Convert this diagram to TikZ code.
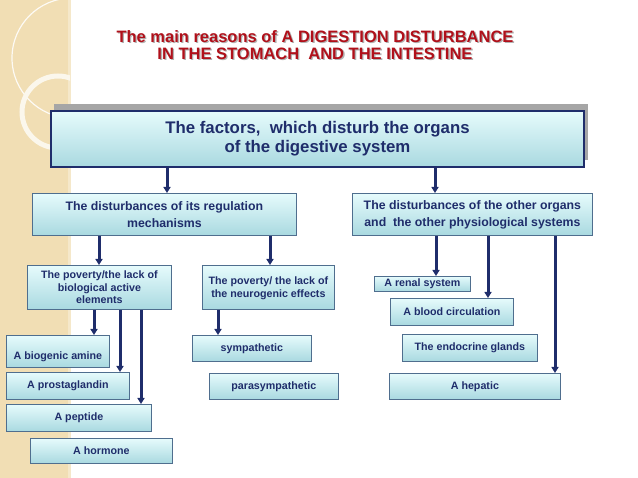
\documentclass[tikz,border=0pt]{standalone}
\usepackage{fontspec}
\setmainfont{Liberation Sans}
\usetikzlibrary{arrows.meta}
\definecolor{navy}{HTML}{1F2D6B}
\definecolor{boxtop}{HTML}{E6FBFC}
\definecolor{boxbot}{HTML}{A9D9E0}
\definecolor{bord}{HTML}{4F6E8E}
\definecolor{beige}{HTML}{F1DEB4}
\definecolor{titlered}{HTML}{B0101A}
\begin{document}
\begin{tikzpicture}[x=1pt,y=-1pt,
  bx/.style={draw=bord,line width=0.8pt,top color=boxtop,bottom color=boxbot,inner sep=0pt,
    text=navy,font=\bfseries\fontsize{10.7}{12.5}\selectfont,align=center},
  arr/.style={draw=navy,line width=3pt,-{Triangle[length=6pt,width=7pt]}}]
\useasboundingbox (0,0) rectangle (638,478);
% left decorative strip
\fill[beige] (0,0) rectangle (70,478);
\fill[beige!70!white] (68,0) rectangle (71,478);
\begin{scope}
\clip (0,0) rectangle (70,478);
\draw[white!85!beige,line width=1.2pt] (72,58) circle (60);
\draw[white!75!beige,line width=5pt] (58,112) circle (36);
\end{scope}
% title
\node[text=gray!60,font=\bfseries\fontsize{16.5}{16.5}\selectfont,align=center] (tsh) at (316.3,46.3)
 {The main reasons of A DIGESTION DISTURBANCE\\IN THE STOMACH\ \ AND THE INTESTINE};
\node[text=titlered,font=\bfseries\fontsize{16.5}{16.5}\selectfont,align=center] (title) at (315,45)
 {The main reasons of A DIGESTION DISTURBANCE\\IN THE STOMACH\ \ AND THE INTESTINE};
% top box
\fill[gray!70] (54,104) rectangle (588,160);
\node[bx,draw=navy,line width=2pt,minimum width=533,minimum height=56,font=\bfseries\fontsize{16.8}{19}\selectfont,anchor=north west] (top) at (50,110)
 {The factors,\ \ which disturb the organs\\of the digestive system};
\node[bx,anchor=north west,minimum width=264,minimum height=42,font=\bfseries\fontsize{12.3}{17}\selectfont] (reg) at (32,193) {The disturbances of its regulation\\mechanisms};
\node[bx,anchor=north west,minimum width=240,minimum height=42,font=\bfseries\fontsize{12.3}{17}\selectfont] (oth) at (352,193) {The disturbances of the other organs\\and\ \ the other physiological systems};
\node[bx,anchor=north west,minimum width=144,minimum height=44] (bio) at (27,265) {The poverty/the lack of\\biological active\\elements};
\node[bx,anchor=north west,minimum width=132,minimum height=44,text height=22pt] (neu) at (202,265) {The poverty/ the lack of\\the neurogenic effects};
\node[bx,anchor=north west,minimum width=96,minimum height=15] (ren) at (374,276) {A renal system};
\node[bx,anchor=north west,minimum width=123,minimum height=27] (bld) at (390,298) {A blood circulation};
\node[bx,anchor=north west,minimum width=135,minimum height=27] (end) at (402,334) {The endocrine glands};
\node[bx,anchor=north west,minimum width=171,minimum height=26] (hep) at (389,373) {A hepatic};
\node[bx,anchor=north west,minimum width=103,minimum height=32,text height=18pt] (ami) at (6,335) {A biogenic amine};
\node[bx,anchor=north west,minimum width=123,minimum height=27] (pro) at (6,372) {A prostaglandin};
\node[bx,anchor=north west,minimum width=145,minimum height=27] (pep) at (6,404) {A peptide};
\node[bx,anchor=north west,minimum width=142,minimum height=25] (hor) at (30,438) {A hormone};
\node[bx,anchor=north west,minimum width=119,minimum height=26] (sym) at (192,335) {sympathetic};
\node[bx,anchor=north west,minimum width=129,minimum height=26] (par) at (209,373) {parasympathetic};
% arrows
\draw[arr] (top.south -| 167,0) -- (reg.north -| 167,0);
\draw[arr] (top.south -| 435,0) -- (oth.north -| 435,0);
\draw[arr] (reg.south -| 99,0) -- (bio.north -| 99,0);
\draw[arr] (reg.south -| 270,0) -- (neu.north -| 270,0);
\draw[arr] (oth.south -| 436,0) -- (ren.north -| 436,0);
\draw[arr] (oth.south -| 488,0) -- (bld.north -| 488,0);
\draw[arr] (oth.south -| 555,0) -- (hep.north -| 555,0);
\draw[arr] (bio.south -| 94,0) -- (ami.north -| 94,0);
\draw[arr] (bio.south -| 120,0) -- (pro.north -| 120,0);
\draw[arr] (bio.south -| 141,0) -- (pep.north -| 141,0);
\draw[arr] (neu.south -| 218,0) -- (sym.north -| 218,0);
\end{tikzpicture}
\end{document}
